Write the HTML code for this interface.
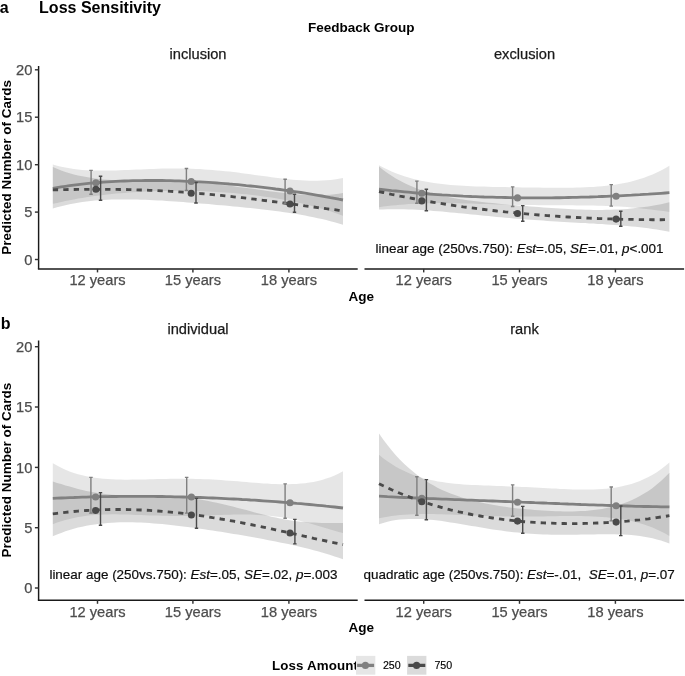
<!DOCTYPE html>
<html lang="en"><head><meta charset="utf-8"><title>Loss Sensitivity</title>
<style>
html,body{margin:0;padding:0;background:#fff;}
body{width:685px;height:676px;overflow:hidden;}
svg{display:block;}
text{font-family:"Liberation Sans",sans-serif;}
.ttl{font-size:16px;font-weight:bold;fill:#000;}
.lab{font-size:13.5px;font-weight:bold;fill:#000;}
.strip{font-size:14.67px;fill:#1a1a1a;stroke:#1a1a1a;stroke-width:0.25px;}
.at{font-size:14.67px;fill:#4d4d4d;stroke:#4d4d4d;stroke-width:0.25px;}
.ann{white-space:pre;font-size:13.45px;fill:#0d0d0d;stroke:#0d0d0d;stroke-width:0.2px;}
.it{font-style:italic;}
.leg{font-size:10.67px;fill:#000;stroke:#000;stroke-width:0.15px;}
</style></head><body>
<svg width="685" height="676" viewBox="0 0 685 676">
<rect width="685" height="676" fill="#fff"/>
<g>
<path d="M52.8 164.5 L57.0 165.7 L61.2 166.7 L65.4 167.6 L69.6 168.3 L73.8 168.9 L78.0 169.5 L82.2 169.9 L86.4 170.2 L90.7 170.4 L94.9 170.5 L99.1 170.6 L103.3 170.6 L107.5 170.6 L111.7 170.5 L115.9 170.4 L120.1 170.2 L124.3 170.1 L128.5 169.9 L132.7 169.7 L136.9 169.5 L141.1 169.4 L145.3 169.2 L149.5 169.0 L153.7 168.9 L157.9 168.7 L162.2 168.6 L166.4 168.5 L170.6 168.5 L174.8 168.5 L179.0 168.5 L183.2 168.5 L187.4 168.6 L191.6 168.8 L195.8 168.9 L200.0 169.1 L204.2 169.4 L208.4 169.7 L212.6 170.0 L216.8 170.4 L221.0 170.7 L225.2 171.2 L229.4 171.6 L233.6 172.1 L237.9 172.6 L242.1 173.2 L246.3 173.7 L250.5 174.3 L254.7 174.9 L258.9 175.5 L263.1 176.1 L267.3 176.6 L271.5 177.2 L275.7 177.8 L279.9 178.3 L284.1 178.8 L288.3 179.3 L292.5 179.7 L296.7 180.0 L300.9 180.3 L305.1 180.6 L309.4 180.7 L313.6 180.8 L317.8 180.7 L322.0 180.6 L326.2 180.3 L330.4 179.9 L334.6 179.4 L338.8 178.7 L343.0 177.9 L343.0 215.7 L338.8 214.2 L334.6 212.7 L330.4 211.3 L326.2 210.0 L322.0 208.7 L317.8 207.5 L313.6 206.4 L309.4 205.3 L305.1 204.3 L300.9 203.3 L296.7 202.3 L292.5 201.4 L288.3 200.6 L284.1 199.8 L279.9 199.0 L275.7 198.3 L271.5 197.6 L267.3 197.0 L263.1 196.4 L258.9 195.8 L254.7 195.3 L250.5 194.8 L246.3 194.3 L242.1 193.9 L237.9 193.5 L233.6 193.1 L229.4 192.7 L225.2 192.4 L221.0 192.2 L216.8 191.9 L212.6 191.7 L208.4 191.5 L204.2 191.3 L200.0 191.1 L195.8 191.0 L191.6 190.9 L187.4 190.9 L183.2 190.8 L179.0 190.8 L174.8 190.8 L170.6 190.8 L166.4 190.9 L162.2 190.9 L157.9 191.1 L153.7 191.2 L149.5 191.3 L145.3 191.5 L141.1 191.7 L136.9 192.0 L132.7 192.2 L128.5 192.5 L124.3 192.9 L120.1 193.2 L115.9 193.6 L111.7 194.0 L107.5 194.5 L103.3 195.0 L99.1 195.5 L94.9 196.0 L90.7 196.6 L86.4 197.3 L82.2 197.9 L78.0 198.6 L73.8 199.4 L69.6 200.2 L65.4 201.0 L61.2 201.9 L57.0 202.9 L52.8 203.8Z" fill="#808080" fill-opacity="0.2"/>
<path d="M52.8 166.9 L57.0 168.7 L61.2 170.4 L65.4 171.9 L69.6 173.2 L73.8 174.4 L78.0 175.4 L82.2 176.3 L86.4 177.1 L90.7 177.8 L94.9 178.4 L99.1 179.0 L103.3 179.4 L107.5 179.8 L111.7 180.1 L115.9 180.3 L120.1 180.5 L124.3 180.7 L128.5 180.8 L132.7 180.9 L136.9 181.0 L141.1 181.1 L145.3 181.1 L149.5 181.2 L153.7 181.3 L157.9 181.3 L162.2 181.4 L166.4 181.5 L170.6 181.6 L174.8 181.7 L179.0 181.9 L183.2 182.1 L187.4 182.3 L191.6 182.5 L195.8 182.7 L200.0 183.0 L204.2 183.3 L208.4 183.7 L212.6 184.1 L216.8 184.5 L221.0 184.9 L225.2 185.3 L229.4 185.8 L233.6 186.3 L237.9 186.9 L242.1 187.4 L246.3 188.0 L250.5 188.5 L254.7 189.1 L258.9 189.7 L263.1 190.3 L267.3 190.9 L271.5 191.5 L275.7 192.0 L279.9 192.5 L284.1 193.1 L288.3 193.5 L292.5 194.0 L296.7 194.3 L300.9 194.7 L305.1 194.9 L309.4 195.1 L313.6 195.2 L317.8 195.3 L322.0 195.2 L326.2 195.0 L330.4 194.7 L334.6 194.3 L338.8 193.7 L343.0 193.0 L343.0 224.8 L338.8 223.6 L334.6 222.3 L330.4 221.2 L326.2 220.1 L322.0 219.1 L317.8 218.2 L313.6 217.3 L309.4 216.4 L305.1 215.6 L300.9 214.8 L296.7 214.1 L292.5 213.4 L288.3 212.8 L284.1 212.2 L279.9 211.6 L275.7 211.0 L271.5 210.5 L267.3 210.0 L263.1 209.5 L258.9 209.0 L254.7 208.5 L250.5 208.1 L246.3 207.7 L242.1 207.2 L237.9 206.8 L233.6 206.4 L229.4 206.0 L225.2 205.6 L221.0 205.2 L216.8 204.9 L212.6 204.5 L208.4 204.1 L204.2 203.8 L200.0 203.4 L195.8 203.1 L191.6 202.7 L187.4 202.4 L183.2 202.1 L179.0 201.8 L174.8 201.5 L170.6 201.2 L166.4 200.9 L162.2 200.6 L157.9 200.4 L153.7 200.2 L149.5 200.0 L145.3 199.8 L141.1 199.7 L136.9 199.5 L132.7 199.4 L128.5 199.4 L124.3 199.4 L120.1 199.4 L115.9 199.5 L111.7 199.6 L107.5 199.8 L103.3 200.0 L99.1 200.3 L94.9 200.6 L90.7 201.0 L86.4 201.5 L82.2 202.0 L78.0 202.7 L73.8 203.4 L69.6 204.2 L65.4 205.2 L61.2 206.2 L57.0 207.3 L52.8 208.5Z" fill="#4a4a4a" fill-opacity="0.2"/>
<polyline points="52.8,188.3 57.0,187.6 61.2,186.9 65.4,186.3 69.6,185.7 73.8,185.1 78.0,184.6 82.2,184.1 86.4,183.7 90.7,183.2 94.9,182.9 99.1,182.5 103.3,182.2 107.5,181.9 111.7,181.6 115.9,181.4 120.1,181.2 124.3,181.0 128.5,180.9 132.7,180.7 136.9,180.6 141.1,180.6 145.3,180.5 149.5,180.5 153.7,180.5 157.9,180.5 162.2,180.5 166.4,180.6 170.6,180.7 174.8,180.8 179.0,180.9 183.2,181.1 187.4,181.3 191.6,181.4 195.8,181.7 200.0,181.9 204.2,182.1 208.4,182.4 212.6,182.7 216.8,183.0 221.0,183.3 225.2,183.6 229.4,184.0 233.6,184.3 237.9,184.7 242.1,185.1 246.3,185.6 250.5,186.0 254.7,186.4 258.9,186.9 263.1,187.4 267.3,187.9 271.5,188.4 275.7,189.0 279.9,189.5 284.1,190.1 288.3,190.7 292.5,191.3 296.7,191.9 300.9,192.5 305.1,193.2 309.4,193.9 313.6,194.6 317.8,195.3 322.0,196.0 326.2,196.8 330.4,197.6 334.6,198.3 338.8,199.2 343.0,200.0" fill="none" stroke="#808080" stroke-width="2.85"/>
<polyline points="52.8,189.8 57.0,189.7 61.2,189.7 65.4,189.6 69.6,189.5 73.8,189.5 78.0,189.4 82.2,189.4 86.4,189.3 90.7,189.3 94.9,189.3 99.1,189.3 103.3,189.3 107.5,189.3 111.7,189.4 115.9,189.4 120.1,189.5 124.3,189.5 128.5,189.6 132.7,189.7 136.9,189.9 141.1,190.0 145.3,190.1 149.5,190.3 153.7,190.5 157.9,190.7 162.2,190.9 166.4,191.1 170.6,191.3 174.8,191.6 179.0,191.9 183.2,192.2 187.4,192.5 191.6,192.8 195.8,193.1 200.0,193.5 204.2,193.8 208.4,194.2 212.6,194.6 216.8,195.0 221.0,195.4 225.2,195.9 229.4,196.3 233.6,196.8 237.9,197.3 242.1,197.7 246.3,198.2 250.5,198.7 254.7,199.2 258.9,199.8 263.1,200.3 267.3,200.8 271.5,201.4 275.7,201.9 279.9,202.5 284.1,203.0 288.3,203.6 292.5,204.2 296.7,204.7 300.9,205.3 305.1,205.9 309.4,206.4 313.6,207.0 317.8,207.6 322.0,208.1 326.2,208.7 330.4,209.2 334.6,209.7 338.8,210.3 343.0,210.8" fill="none" stroke="#4a4a4a" stroke-width="2.85" stroke-dasharray="5.3 5.17"/>
<path d="M91.1 170.4V194.2M89.3 170.4H92.8M89.3 194.2H92.8" stroke="#808080" stroke-width="1.42" fill="none"/>
<path d="M100.6 176.2V200.3M98.8 176.2H102.3M98.8 200.3H102.3" stroke="#4a4a4a" stroke-width="1.42" fill="none"/>
<path d="M186.4 168.5V190.5M184.7 168.5H188.2M184.7 190.5H188.2" stroke="#808080" stroke-width="1.42" fill="none"/>
<path d="M196.0 182.5V203.0M194.2 182.5H197.8M194.2 203.0H197.8" stroke="#4a4a4a" stroke-width="1.42" fill="none"/>
<path d="M285.1 179.3V203.2M283.4 179.3H286.9M283.4 203.2H286.9" stroke="#808080" stroke-width="1.42" fill="none"/>
<path d="M294.5 194.3V212.3M292.8 194.3H296.2M292.8 212.3H296.2" stroke="#4a4a4a" stroke-width="1.42" fill="none"/>
<circle cx="95.9" cy="182.7" r="3.55" fill="#808080"/>
<circle cx="95.9" cy="189.3" r="3.55" fill="#4a4a4a"/>
<circle cx="191.2" cy="181.5" r="3.55" fill="#808080"/>
<circle cx="191.2" cy="193.3" r="3.55" fill="#4a4a4a"/>
<circle cx="290.0" cy="191.0" r="3.55" fill="#808080"/>
<circle cx="290.0" cy="204.0" r="3.55" fill="#4a4a4a"/>
<path d="M379.0 165.2 L383.2 167.5 L387.4 169.6 L391.6 171.5 L395.8 173.3 L400.0 174.8 L404.3 176.3 L408.5 177.6 L412.7 178.7 L416.9 179.8 L421.1 180.7 L425.3 181.6 L429.5 182.3 L433.7 183.0 L437.9 183.5 L442.1 184.1 L446.3 184.5 L450.5 184.9 L454.8 185.2 L459.0 185.5 L463.2 185.8 L467.4 186.0 L471.6 186.2 L475.8 186.4 L480.0 186.5 L484.2 186.6 L488.4 186.8 L492.6 186.9 L496.8 186.9 L501.1 187.0 L505.3 187.1 L509.5 187.2 L513.7 187.2 L517.9 187.3 L522.1 187.4 L526.3 187.4 L530.5 187.5 L534.7 187.6 L538.9 187.6 L543.1 187.7 L547.3 187.7 L551.6 187.7 L555.8 187.8 L560.0 187.8 L564.2 187.8 L568.4 187.7 L572.6 187.7 L576.8 187.6 L581.0 187.5 L585.2 187.3 L589.4 187.1 L593.6 186.9 L597.9 186.6 L602.1 186.2 L606.3 185.8 L610.5 185.3 L614.7 184.7 L618.9 184.1 L623.1 183.3 L627.3 182.4 L631.5 181.4 L635.7 180.3 L639.9 179.1 L644.1 177.7 L648.4 176.1 L652.6 174.4 L656.8 172.5 L661.0 170.5 L665.2 168.2 L669.4 165.7 L669.4 211.9 L665.2 211.3 L661.0 210.8 L656.8 210.2 L652.6 209.7 L648.4 209.2 L644.1 208.7 L639.9 208.3 L635.7 207.8 L631.5 207.5 L627.3 207.1 L623.1 206.8 L618.9 206.6 L614.7 206.4 L610.5 206.1 L606.3 206.0 L602.1 205.8 L597.9 205.7 L593.6 205.6 L589.4 205.5 L585.2 205.5 L581.0 205.4 L576.8 205.4 L572.6 205.3 L568.4 205.3 L564.2 205.3 L560.0 205.3 L555.8 205.3 L551.6 205.3 L547.3 205.2 L543.1 205.2 L538.9 205.2 L534.7 205.1 L530.5 205.1 L526.3 205.0 L522.1 205.0 L517.9 204.9 L513.7 204.8 L509.5 204.7 L505.3 204.6 L501.1 204.5 L496.8 204.4 L492.6 204.2 L488.4 204.1 L484.2 204.0 L480.0 203.9 L475.8 203.7 L471.6 203.6 L467.4 203.5 L463.2 203.4 L459.0 203.3 L454.8 203.2 L450.5 203.2 L446.3 203.1 L442.1 203.1 L437.9 203.1 L433.7 203.2 L429.5 203.2 L425.3 203.3 L421.1 203.5 L416.9 203.7 L412.7 203.9 L408.5 204.1 L404.3 204.5 L400.0 204.8 L395.8 205.2 L391.6 205.6 L387.4 206.1 L383.2 206.6 L379.0 207.2Z" fill="#808080" fill-opacity="0.2"/>
<path d="M379.0 166.6 L383.2 169.9 L387.4 173.0 L391.6 175.8 L395.8 178.4 L400.0 180.8 L404.3 183.0 L408.5 185.0 L412.7 186.8 L416.9 188.4 L421.1 190.0 L425.3 191.3 L429.5 192.6 L433.7 193.8 L437.9 194.8 L442.1 195.8 L446.3 196.7 L450.5 197.5 L454.8 198.3 L459.0 199.0 L463.2 199.6 L467.4 200.2 L471.6 200.8 L475.8 201.3 L480.0 201.8 L484.2 202.3 L488.4 202.7 L492.6 203.1 L496.8 203.5 L501.1 203.9 L505.3 204.3 L509.5 204.7 L513.7 205.1 L517.9 205.4 L522.1 205.8 L526.3 206.1 L530.5 206.5 L534.7 206.8 L538.9 207.1 L543.1 207.4 L547.3 207.7 L551.6 208.0 L555.8 208.3 L560.0 208.6 L564.2 208.8 L568.4 209.0 L572.6 209.3 L576.8 209.4 L581.0 209.6 L585.2 209.7 L589.4 209.8 L593.6 209.9 L597.9 209.9 L602.1 209.9 L606.3 209.8 L610.5 209.8 L614.7 209.6 L618.9 209.4 L623.1 209.2 L627.3 208.9 L631.5 208.5 L635.7 208.1 L639.9 207.6 L644.1 207.1 L648.4 206.4 L652.6 205.8 L656.8 205.0 L661.0 204.2 L665.2 203.2 L669.4 202.3 L669.4 231.8 L665.2 231.0 L661.0 230.3 L656.8 229.6 L652.6 228.9 L648.4 228.3 L644.1 227.8 L639.9 227.3 L635.7 226.8 L631.5 226.4 L627.3 226.0 L623.1 225.7 L618.9 225.3 L614.7 225.0 L610.5 224.7 L606.3 224.4 L602.1 224.1 L597.9 223.9 L593.6 223.6 L589.4 223.4 L585.2 223.1 L581.0 222.9 L576.8 222.7 L572.6 222.4 L568.4 222.2 L564.2 222.0 L560.0 221.7 L555.8 221.4 L551.6 221.2 L547.3 220.9 L543.1 220.6 L538.9 220.3 L534.7 220.0 L530.5 219.7 L526.3 219.4 L522.1 219.1 L517.9 218.7 L513.7 218.4 L509.5 218.0 L505.3 217.7 L501.1 217.3 L496.8 216.9 L492.6 216.5 L488.4 216.1 L484.2 215.7 L480.0 215.3 L475.8 214.8 L471.6 214.4 L467.4 214.0 L463.2 213.6 L459.0 213.2 L454.8 212.8 L450.5 212.4 L446.3 212.0 L442.1 211.6 L437.9 211.2 L433.7 210.9 L429.5 210.6 L425.3 210.3 L421.1 210.0 L416.9 209.8 L412.7 209.6 L408.5 209.4 L404.3 209.3 L400.0 209.2 L395.8 209.2 L391.6 209.2 L387.4 209.3 L383.2 209.4 L379.0 209.6Z" fill="#4a4a4a" fill-opacity="0.2"/>
<polyline points="379.0,189.2 383.2,189.6 387.4,190.1 391.6,190.6 395.8,191.0 400.0,191.4 404.3,191.8 408.5,192.2 412.7,192.6 416.9,193.0 421.1,193.3 425.3,193.6 429.5,194.0 433.7,194.3 437.9,194.6 442.1,194.9 446.3,195.1 450.5,195.4 454.8,195.6 459.0,195.8 463.2,196.1 467.4,196.3 471.6,196.5 475.8,196.6 480.0,196.8 484.2,197.0 488.4,197.1 492.6,197.2 496.8,197.3 501.1,197.4 505.3,197.5 509.5,197.6 513.7,197.7 517.9,197.7 522.1,197.8 526.3,197.8 530.5,197.8 534.7,197.8 538.9,197.8 543.1,197.8 547.3,197.8 551.6,197.8 555.8,197.7 560.0,197.7 564.2,197.6 568.4,197.5 572.6,197.4 576.8,197.3 581.0,197.2 585.2,197.1 589.4,197.0 593.6,196.8 597.9,196.7 602.1,196.5 606.3,196.4 610.5,196.2 614.7,196.0 618.9,195.8 623.1,195.6 627.3,195.4 631.5,195.2 635.7,194.9 639.9,194.7 644.1,194.4 648.4,194.2 652.6,193.9 656.8,193.6 661.0,193.3 665.2,193.0 669.4,192.7" fill="none" stroke="#808080" stroke-width="2.85"/>
<polyline points="379.0,191.6 383.2,192.5 387.4,193.5 391.6,194.4 395.8,195.2 400.0,196.1 404.3,196.9 408.5,197.7 412.7,198.5 416.9,199.3 421.1,200.1 425.3,200.8 429.5,201.6 433.7,202.3 437.9,203.0 442.1,203.6 446.3,204.3 450.5,204.9 454.8,205.6 459.0,206.2 463.2,206.8 467.4,207.3 471.6,207.9 475.8,208.4 480.0,209.0 484.2,209.5 488.4,210.0 492.6,210.5 496.8,211.0 501.1,211.4 505.3,211.9 509.5,212.3 513.7,212.7 517.9,213.1 522.1,213.5 526.3,213.9 530.5,214.3 534.7,214.6 538.9,215.0 543.1,215.3 547.3,215.6 551.6,215.9 555.8,216.2 560.0,216.5 564.2,216.8 568.4,217.0 572.6,217.3 576.8,217.5 581.0,217.7 585.2,217.9 589.4,218.1 593.6,218.3 597.9,218.5 602.1,218.6 606.3,218.8 610.5,218.9 614.7,219.1 618.9,219.2 623.1,219.3 627.3,219.4 631.5,219.4 635.7,219.5 639.9,219.6 644.1,219.6 648.4,219.6 652.6,219.7 656.8,219.7 661.0,219.7 665.2,219.6 669.4,219.6" fill="none" stroke="#4a4a4a" stroke-width="2.85" stroke-dasharray="5.3 5.17"/>
<path d="M416.9 181.1V203.3M415.1 181.1H418.6M415.1 203.3H418.6" stroke="#808080" stroke-width="1.42" fill="none"/>
<path d="M426.4 189.2V210.7M424.6 189.2H428.1M424.6 210.7H428.1" stroke="#4a4a4a" stroke-width="1.42" fill="none"/>
<path d="M512.6 186.9V206.5M510.9 186.9H514.4M510.9 206.5H514.4" stroke="#808080" stroke-width="1.42" fill="none"/>
<path d="M522.7 205.6V221.2M521.0 205.6H524.5M521.0 221.2H524.5" stroke="#4a4a4a" stroke-width="1.42" fill="none"/>
<path d="M611.2 184.6V206.1M609.5 184.6H613.0M609.5 206.1H613.0" stroke="#808080" stroke-width="1.42" fill="none"/>
<path d="M620.8 211.2V226.2M619.0 211.2H622.5M619.0 226.2H622.5" stroke="#4a4a4a" stroke-width="1.42" fill="none"/>
<circle cx="421.8" cy="193.2" r="3.55" fill="#808080"/>
<circle cx="421.8" cy="200.9" r="3.55" fill="#4a4a4a"/>
<circle cx="517.5" cy="197.9" r="3.55" fill="#808080"/>
<circle cx="517.5" cy="213.5" r="3.55" fill="#4a4a4a"/>
<circle cx="616.1" cy="196.3" r="3.55" fill="#808080"/>
<circle cx="616.1" cy="219.1" r="3.55" fill="#4a4a4a"/>
<path d="M52.8 463.2 L57.0 465.6 L61.2 467.8 L65.4 469.7 L69.6 471.4 L73.8 472.9 L78.0 474.2 L82.2 475.3 L86.4 476.3 L90.7 477.1 L94.9 477.7 L99.1 478.3 L103.3 478.7 L107.5 479.1 L111.7 479.3 L115.9 479.5 L120.1 479.6 L124.3 479.7 L128.5 479.7 L132.7 479.6 L136.9 479.6 L141.1 479.5 L145.3 479.4 L149.5 479.3 L153.7 479.2 L157.9 479.0 L162.2 478.9 L166.4 478.9 L170.6 478.8 L174.8 478.7 L179.0 478.7 L183.2 478.7 L187.4 478.7 L191.6 478.8 L195.8 478.9 L200.0 479.0 L204.2 479.2 L208.4 479.3 L212.6 479.6 L216.8 479.8 L221.0 480.1 L225.2 480.4 L229.4 480.7 L233.6 481.0 L237.9 481.3 L242.1 481.7 L246.3 482.1 L250.5 482.4 L254.7 482.7 L258.9 483.1 L263.1 483.4 L267.3 483.6 L271.5 483.9 L275.7 484.1 L279.9 484.2 L284.1 484.3 L288.3 484.2 L292.5 484.1 L296.7 483.9 L300.9 483.6 L305.1 483.2 L309.4 482.6 L313.6 481.9 L317.8 481.0 L322.0 479.9 L326.2 478.6 L330.4 477.2 L334.6 475.5 L338.8 473.5 L343.0 471.3 L343.0 533.1 L338.8 532.0 L334.6 530.8 L330.4 529.6 L326.2 528.3 L322.0 527.0 L317.8 525.7 L313.6 524.5 L309.4 523.3 L305.1 522.2 L300.9 521.1 L296.7 520.1 L292.5 519.2 L288.3 518.3 L284.1 517.6 L279.9 516.9 L275.7 516.4 L271.5 515.9 L267.3 515.5 L263.1 515.2 L258.9 514.9 L254.7 514.7 L250.5 514.6 L246.3 514.5 L242.1 514.5 L237.9 514.5 L233.6 514.6 L229.4 514.7 L225.2 514.8 L221.0 514.9 L216.8 515.1 L212.6 515.2 L208.4 515.4 L204.2 515.5 L200.0 515.6 L195.8 515.7 L191.6 515.8 L187.4 515.9 L183.2 515.9 L179.0 515.9 L174.8 515.9 L170.6 515.9 L166.4 515.8 L162.2 515.8 L157.9 515.6 L153.7 515.5 L149.5 515.4 L145.3 515.2 L141.1 515.1 L136.9 514.9 L132.7 514.7 L128.5 514.6 L124.3 514.5 L120.1 514.4 L115.9 514.3 L111.7 514.3 L107.5 514.4 L103.3 514.5 L99.1 514.7 L94.9 515.0 L90.7 515.3 L86.4 515.8 L82.2 516.4 L78.0 517.1 L73.8 517.9 L69.6 518.9 L65.4 520.0 L61.2 521.2 L57.0 522.6 L52.8 524.2Z" fill="#808080" fill-opacity="0.2"/>
<path d="M52.8 481.6 L57.0 482.9 L61.2 484.1 L65.4 485.4 L69.6 486.6 L73.8 487.8 L78.0 488.9 L82.2 489.9 L86.4 490.9 L90.7 491.7 L94.9 492.5 L99.1 493.2 L103.3 493.8 L107.5 494.3 L111.7 494.7 L115.9 495.0 L120.1 495.3 L124.3 495.5 L128.5 495.7 L132.7 495.8 L136.9 495.9 L141.1 496.0 L145.3 496.0 L149.5 496.1 L153.7 496.1 L157.9 496.2 L162.2 496.3 L166.4 496.5 L170.6 496.7 L174.8 496.9 L179.0 497.2 L183.2 497.6 L187.4 498.0 L191.6 498.5 L195.8 499.0 L200.0 499.6 L204.2 500.3 L208.4 501.1 L212.6 501.9 L216.8 502.8 L221.0 503.7 L225.2 504.7 L229.4 505.7 L233.6 506.8 L237.9 507.9 L242.1 509.0 L246.3 510.1 L250.5 511.3 L254.7 512.4 L258.9 513.5 L263.1 514.6 L267.3 515.6 L271.5 516.7 L275.7 517.6 L279.9 518.5 L284.1 519.3 L288.3 520.0 L292.5 520.7 L296.7 521.3 L300.9 521.7 L305.1 522.1 L309.4 522.4 L313.6 522.6 L317.8 522.8 L322.0 522.9 L326.2 522.9 L330.4 522.9 L334.6 522.9 L338.8 522.9 L343.0 522.9 L343.0 559.2 L338.8 557.8 L334.6 556.4 L330.4 555.0 L326.2 553.7 L322.0 552.5 L317.8 551.3 L313.6 550.2 L309.4 549.1 L305.1 548.0 L300.9 547.0 L296.7 546.0 L292.5 545.1 L288.3 544.1 L284.1 543.2 L279.9 542.4 L275.7 541.5 L271.5 540.7 L267.3 539.9 L263.1 539.1 L258.9 538.3 L254.7 537.5 L250.5 536.8 L246.3 536.0 L242.1 535.3 L237.9 534.6 L233.6 533.9 L229.4 533.2 L225.2 532.5 L221.0 531.8 L216.8 531.2 L212.6 530.5 L208.4 529.9 L204.2 529.3 L200.0 528.7 L195.8 528.1 L191.6 527.5 L187.4 526.9 L183.2 526.4 L179.0 525.9 L174.8 525.4 L170.6 524.9 L166.4 524.5 L162.2 524.1 L157.9 523.7 L153.7 523.4 L149.5 523.1 L145.3 522.8 L141.1 522.6 L136.9 522.4 L132.7 522.3 L128.5 522.3 L124.3 522.3 L120.1 522.3 L115.9 522.5 L111.7 522.7 L107.5 523.0 L103.3 523.4 L99.1 523.8 L94.9 524.4 L90.7 525.0 L86.4 525.8 L82.2 526.7 L78.0 527.6 L73.8 528.8 L69.6 530.0 L65.4 531.3 L61.2 532.9 L57.0 534.5 L52.8 536.3Z" fill="#4a4a4a" fill-opacity="0.2"/>
<polyline points="52.8,498.4 57.0,498.2 61.2,498.0 65.4,497.8 69.6,497.6 73.8,497.5 78.0,497.3 82.2,497.2 86.4,497.1 90.7,496.9 94.9,496.8 99.1,496.7 103.3,496.6 107.5,496.6 111.7,496.5 115.9,496.5 120.1,496.4 124.3,496.4 128.5,496.4 132.7,496.3 136.9,496.3 141.1,496.4 145.3,496.4 149.5,496.4 153.7,496.4 157.9,496.5 162.2,496.5 166.4,496.6 170.6,496.7 174.8,496.8 179.0,496.9 183.2,497.0 187.4,497.1 191.6,497.2 195.8,497.4 200.0,497.5 204.2,497.6 208.4,497.8 212.6,498.0 216.8,498.2 221.0,498.4 225.2,498.6 229.4,498.8 233.6,499.0 237.9,499.2 242.1,499.5 246.3,499.7 250.5,500.0 254.7,500.2 258.9,500.5 263.1,500.8 267.3,501.1 271.5,501.4 275.7,501.7 279.9,502.0 284.1,502.3 288.3,502.7 292.5,503.0 296.7,503.4 300.9,503.7 305.1,504.1 309.4,504.5 313.6,504.9 317.8,505.3 322.0,505.7 326.2,506.2 330.4,506.6 334.6,507.0 338.8,507.5 343.0,508.0" fill="none" stroke="#808080" stroke-width="2.85"/>
<polyline points="52.8,513.8 57.0,513.3 61.2,512.8 65.4,512.3 69.6,511.9 73.8,511.5 78.0,511.1 82.2,510.8 86.4,510.5 90.7,510.3 94.9,510.1 99.1,509.9 103.3,509.7 107.5,509.6 111.7,509.5 115.9,509.5 120.1,509.5 124.3,509.5 128.5,509.6 132.7,509.7 136.9,509.8 141.1,510.0 145.3,510.2 149.5,510.4 153.7,510.7 157.9,511.0 162.2,511.3 166.4,511.7 170.6,512.1 174.8,512.5 179.0,512.9 183.2,513.4 187.4,513.9 191.6,514.5 195.8,515.0 200.0,515.6 204.2,516.2 208.4,516.9 212.6,517.6 216.8,518.2 221.0,519.0 225.2,519.7 229.4,520.5 233.6,521.2 237.9,522.0 242.1,522.8 246.3,523.7 250.5,524.5 254.7,525.4 258.9,526.2 263.1,527.1 267.3,528.0 271.5,528.9 275.7,529.9 279.9,530.8 284.1,531.7 288.3,532.6 292.5,533.6 296.7,534.5 300.9,535.5 305.1,536.4 309.4,537.3 313.6,538.3 317.8,539.2 322.0,540.1 326.2,541.0 330.4,542.0 334.6,542.8 338.8,543.7 343.0,544.6" fill="none" stroke="#4a4a4a" stroke-width="2.85" stroke-dasharray="5.3 5.17"/>
<path d="M90.9 477.4V513.1M89.2 477.4H92.7M89.2 513.1H92.7" stroke="#808080" stroke-width="1.42" fill="none"/>
<path d="M100.5 492.6V525.3M98.8 492.6H102.2M98.8 525.3H102.2" stroke="#4a4a4a" stroke-width="1.42" fill="none"/>
<path d="M186.7 477.4V513.1M184.9 477.4H188.4M184.9 513.1H188.4" stroke="#808080" stroke-width="1.42" fill="none"/>
<path d="M196.5 498.4V528.3M194.8 498.4H198.2M194.8 528.3H198.2" stroke="#4a4a4a" stroke-width="1.42" fill="none"/>
<path d="M285.1 483.9V518.3M283.4 483.9H286.9M283.4 518.3H286.9" stroke="#808080" stroke-width="1.42" fill="none"/>
<path d="M294.9 519.4V543.9M293.1 519.4H296.6M293.1 543.9H296.6" stroke="#4a4a4a" stroke-width="1.42" fill="none"/>
<circle cx="95.6" cy="497.0" r="3.55" fill="#808080"/>
<circle cx="95.6" cy="510.5" r="3.55" fill="#4a4a4a"/>
<circle cx="191.4" cy="497.0" r="3.55" fill="#808080"/>
<circle cx="191.4" cy="515.0" r="3.55" fill="#4a4a4a"/>
<circle cx="290.0" cy="502.8" r="3.55" fill="#808080"/>
<circle cx="290.0" cy="533.0" r="3.55" fill="#4a4a4a"/>
<path d="M379.0 454.7 L383.2 458.2 L387.4 461.3 L391.6 464.1 L395.8 466.7 L400.0 469.0 L404.3 471.1 L408.5 473.0 L412.7 474.7 L416.9 476.2 L421.1 477.5 L425.3 478.7 L429.5 479.7 L433.7 480.6 L437.9 481.4 L442.1 482.1 L446.3 482.7 L450.5 483.2 L454.8 483.7 L459.0 484.0 L463.2 484.4 L467.4 484.7 L471.6 484.9 L475.8 485.1 L480.0 485.3 L484.2 485.5 L488.4 485.6 L492.6 485.8 L496.8 485.9 L501.1 486.1 L505.3 486.2 L509.5 486.4 L513.7 486.5 L517.9 486.7 L522.1 486.9 L526.3 487.1 L530.5 487.3 L534.7 487.5 L538.9 487.7 L543.1 488.0 L547.3 488.2 L551.6 488.4 L555.8 488.6 L560.0 488.9 L564.2 489.0 L568.4 489.2 L572.6 489.4 L576.8 489.5 L581.0 489.6 L585.2 489.6 L589.4 489.6 L593.6 489.5 L597.9 489.3 L602.1 489.1 L606.3 488.7 L610.5 488.3 L614.7 487.7 L618.9 487.0 L623.1 486.1 L627.3 485.1 L631.5 483.9 L635.7 482.5 L639.9 480.9 L644.1 479.1 L648.4 477.0 L652.6 474.7 L656.8 472.2 L661.0 469.3 L665.2 466.1 L669.4 462.6 L669.4 536.0 L665.2 533.6 L661.0 531.4 L656.8 529.4 L652.6 527.6 L648.4 526.0 L644.1 524.6 L639.9 523.3 L635.7 522.1 L631.5 521.1 L627.3 520.2 L623.1 519.4 L618.9 518.7 L614.7 518.2 L610.5 517.7 L606.3 517.3 L602.1 516.9 L597.9 516.7 L593.6 516.5 L589.4 516.3 L585.2 516.2 L581.0 516.1 L576.8 516.1 L572.6 516.1 L568.4 516.1 L564.2 516.1 L560.0 516.1 L555.8 516.2 L551.6 516.3 L547.3 516.3 L543.1 516.4 L538.9 516.4 L534.7 516.5 L530.5 516.5 L526.3 516.5 L522.1 516.5 L517.9 516.5 L513.7 516.5 L509.5 516.5 L505.3 516.4 L501.1 516.3 L496.8 516.3 L492.6 516.2 L488.4 516.0 L484.2 515.9 L480.0 515.8 L475.8 515.6 L471.6 515.5 L467.4 515.3 L463.2 515.1 L459.0 514.9 L454.8 514.8 L450.5 514.6 L446.3 514.5 L442.1 514.3 L437.9 514.2 L433.7 514.1 L429.5 514.1 L425.3 514.1 L421.1 514.1 L416.9 514.2 L412.7 514.3 L408.5 514.5 L404.3 514.8 L400.0 515.1 L395.8 515.5 L391.6 516.0 L387.4 516.7 L383.2 517.4 L379.0 518.3Z" fill="#808080" fill-opacity="0.2"/>
<path d="M379.0 433.5 L383.2 439.5 L387.4 445.1 L391.6 450.3 L395.8 455.2 L400.0 459.7 L404.3 463.9 L408.5 467.7 L412.7 471.3 L416.9 474.7 L421.1 477.7 L425.3 480.6 L429.5 483.2 L433.7 485.6 L437.9 487.9 L442.1 489.9 L446.3 491.8 L450.5 493.5 L454.8 495.1 L459.0 496.6 L463.2 497.9 L467.4 499.2 L471.6 500.3 L475.8 501.4 L480.0 502.3 L484.2 503.2 L488.4 504.1 L492.6 504.8 L496.8 505.5 L501.1 506.2 L505.3 506.8 L509.5 507.4 L513.7 507.9 L517.9 508.4 L522.1 508.8 L526.3 509.2 L530.5 509.6 L534.7 510.0 L538.9 510.3 L543.1 510.6 L547.3 510.8 L551.6 511.0 L555.8 511.2 L560.0 511.3 L564.2 511.4 L568.4 511.4 L572.6 511.4 L576.8 511.3 L581.0 511.1 L585.2 510.9 L589.4 510.5 L593.6 510.1 L597.9 509.6 L602.1 508.9 L606.3 508.1 L610.5 507.2 L614.7 506.2 L618.9 505.0 L623.1 503.6 L627.3 502.0 L631.5 500.2 L635.7 498.3 L639.9 496.0 L644.1 493.6 L648.4 490.9 L652.6 487.9 L656.8 484.6 L661.0 481.0 L665.2 477.1 L669.4 472.8 L669.4 543.5 L665.2 542.0 L661.0 540.6 L656.8 539.4 L652.6 538.3 L648.4 537.4 L644.1 536.7 L639.9 536.1 L635.7 535.6 L631.5 535.1 L627.3 534.8 L623.1 534.6 L618.9 534.4 L614.7 534.3 L610.5 534.3 L606.3 534.3 L602.1 534.3 L597.9 534.3 L593.6 534.4 L589.4 534.5 L585.2 534.5 L581.0 534.6 L576.8 534.7 L572.6 534.8 L568.4 534.8 L564.2 534.8 L560.0 534.8 L555.8 534.7 L551.6 534.7 L547.3 534.6 L543.1 534.4 L538.9 534.2 L534.7 534.0 L530.5 533.7 L526.3 533.4 L522.1 533.0 L517.9 532.6 L513.7 532.2 L509.5 531.7 L505.3 531.2 L501.1 530.6 L496.8 530.0 L492.6 529.4 L488.4 528.7 L484.2 528.0 L480.0 527.3 L475.8 526.6 L471.6 525.9 L467.4 525.2 L463.2 524.5 L459.0 523.7 L454.8 523.0 L450.5 522.4 L446.3 521.7 L442.1 521.1 L437.9 520.6 L433.7 520.1 L429.5 519.7 L425.3 519.3 L421.1 519.1 L416.9 518.9 L412.7 518.9 L408.5 519.0 L404.3 519.2 L400.0 519.6 L395.8 520.1 L391.6 520.8 L387.4 521.7 L383.2 522.9 L379.0 524.2Z" fill="#4a4a4a" fill-opacity="0.2"/>
<polyline points="379.0,496.2 383.2,496.4 387.4,496.7 391.6,496.9 395.8,497.1 400.0,497.3 404.3,497.5 408.5,497.7 412.7,497.8 416.9,498.0 421.1,498.2 425.3,498.4 429.5,498.6 433.7,498.7 437.9,498.9 442.1,499.1 446.3,499.2 450.5,499.4 454.8,499.6 459.0,499.7 463.2,499.9 467.4,500.1 471.6,500.2 475.8,500.4 480.0,500.6 484.2,500.7 488.4,500.9 492.6,501.0 496.8,501.2 501.1,501.4 505.3,501.5 509.5,501.7 513.7,501.9 517.9,502.0 522.1,502.2 526.3,502.3 530.5,502.5 534.7,502.7 538.9,502.8 543.1,503.0 547.3,503.2 551.6,503.3 555.8,503.5 560.0,503.7 564.2,503.8 568.4,504.0 572.6,504.1 576.8,504.3 581.0,504.5 585.2,504.6 589.4,504.8 593.6,504.9 597.9,505.1 602.1,505.2 606.3,505.4 610.5,505.5 614.7,505.6 618.9,505.8 623.1,505.9 627.3,506.0 631.5,506.1 635.7,506.3 639.9,506.4 644.1,506.5 648.4,506.5 652.6,506.6 656.8,506.7 661.0,506.8 665.2,506.8 669.4,506.9" fill="none" stroke="#808080" stroke-width="2.85"/>
<polyline points="379.0,483.7 383.2,485.8 387.4,487.7 391.6,489.7 395.8,491.5 400.0,493.3 404.3,495.0 408.5,496.6 412.7,498.2 416.9,499.7 421.1,501.1 425.3,502.5 429.5,503.9 433.7,505.2 437.9,506.4 442.1,507.6 446.3,508.7 450.5,509.8 454.8,510.8 459.0,511.8 463.2,512.7 467.4,513.6 471.6,514.5 475.8,515.3 480.0,516.0 484.2,516.7 488.4,517.4 492.6,518.0 496.8,518.6 501.1,519.2 505.3,519.7 509.5,520.2 513.7,520.7 517.9,521.1 522.1,521.5 526.3,521.8 530.5,522.1 534.7,522.4 538.9,522.7 543.1,522.9 547.3,523.1 551.6,523.2 555.8,523.4 560.0,523.5 564.2,523.5 568.4,523.6 572.6,523.6 576.8,523.6 581.0,523.5 585.2,523.4 589.4,523.3 593.6,523.2 597.9,523.0 602.1,522.8 606.3,522.6 610.5,522.4 614.7,522.1 618.9,521.8 623.1,521.4 627.3,521.1 631.5,520.7 635.7,520.2 639.9,519.8 644.1,519.3 648.4,518.8 652.6,518.2 656.8,517.6 661.0,517.0 665.2,516.4 669.4,515.7" fill="none" stroke="#4a4a4a" stroke-width="2.85" stroke-dasharray="5.3 5.17"/>
<path d="M416.9 476.8V515.3M415.1 476.8H418.6M415.1 515.3H418.6" stroke="#808080" stroke-width="1.42" fill="none"/>
<path d="M426.4 479.6V519.7M424.6 479.6H428.1M424.6 519.7H428.1" stroke="#4a4a4a" stroke-width="1.42" fill="none"/>
<path d="M512.6 484.9V516.2M510.9 484.9H514.4M510.9 516.2H514.4" stroke="#808080" stroke-width="1.42" fill="none"/>
<path d="M522.7 506.4V533.3M521.0 506.4H524.5M521.0 533.3H524.5" stroke="#4a4a4a" stroke-width="1.42" fill="none"/>
<path d="M611.2 487.0V520.9M609.5 487.0H613.0M609.5 520.9H613.0" stroke="#808080" stroke-width="1.42" fill="none"/>
<path d="M620.8 506.0V535.6M619.0 506.0H622.5M619.0 535.6H622.5" stroke="#4a4a4a" stroke-width="1.42" fill="none"/>
<circle cx="421.8" cy="498.3" r="3.55" fill="#808080"/>
<circle cx="421.8" cy="501.8" r="3.55" fill="#4a4a4a"/>
<circle cx="517.5" cy="502.2" r="3.55" fill="#808080"/>
<circle cx="517.5" cy="521.1" r="3.55" fill="#4a4a4a"/>
<circle cx="616.1" cy="505.7" r="3.55" fill="#808080"/>
<circle cx="616.1" cy="522.1" r="3.55" fill="#4a4a4a"/>
</g>
<path d="M38.6 66V268.9" stroke="#1a1a1a" stroke-width="1.45" fill="none"/>
<path d="M34.9 259.5H38.6" stroke="#333" stroke-width="1.45"/>
<text x="32.3" y="264.7" text-anchor="end" class="at">0</text>
<path d="M34.9 212.1H38.6" stroke="#333" stroke-width="1.45"/>
<text x="32.3" y="217.3" text-anchor="end" class="at">5</text>
<path d="M34.9 164.7H38.6" stroke="#333" stroke-width="1.45"/>
<text x="32.3" y="169.8" text-anchor="end" class="at">10</text>
<path d="M34.9 117.2H38.6" stroke="#333" stroke-width="1.45"/>
<text x="32.3" y="122.4" text-anchor="end" class="at">15</text>
<path d="M34.9 69.8H38.6" stroke="#333" stroke-width="1.45"/>
<text x="32.3" y="75.0" text-anchor="end" class="at">20</text>
<path d="M37.88 268.9H357.7" stroke="#1a1a1a" stroke-width="1.45" fill="none"/>
<path d="M97.5 268.9V272.4" stroke="#333" stroke-width="1.45"/>
<text x="97.5" y="285.1" text-anchor="middle" class="at">12 years</text>
<path d="M192.9 268.9V272.4" stroke="#333" stroke-width="1.45"/>
<text x="192.9" y="285.1" text-anchor="middle" class="at">15 years</text>
<path d="M288.9 268.9V272.4" stroke="#333" stroke-width="1.45"/>
<text x="288.9" y="285.1" text-anchor="middle" class="at">18 years</text>
<path d="M364.5 268.9H684.1" stroke="#1a1a1a" stroke-width="1.45" fill="none"/>
<path d="M423.7 268.9V272.4" stroke="#333" stroke-width="1.45"/>
<text x="423.7" y="285.1" text-anchor="middle" class="at">12 years</text>
<path d="M519.5 268.9V272.4" stroke="#333" stroke-width="1.45"/>
<text x="519.5" y="285.1" text-anchor="middle" class="at">15 years</text>
<path d="M615.4 268.9V272.4" stroke="#333" stroke-width="1.45"/>
<text x="615.4" y="285.1" text-anchor="middle" class="at">18 years</text>
<path d="M38.6 340.5V600.3" stroke="#1a1a1a" stroke-width="1.45" fill="none"/>
<path d="M34.9 588.0H38.6" stroke="#333" stroke-width="1.45"/>
<text x="32.3" y="593.2" text-anchor="end" class="at">0</text>
<path d="M34.9 527.7H38.6" stroke="#333" stroke-width="1.45"/>
<text x="32.3" y="532.9" text-anchor="end" class="at">5</text>
<path d="M34.9 467.4H38.6" stroke="#333" stroke-width="1.45"/>
<text x="32.3" y="472.6" text-anchor="end" class="at">10</text>
<path d="M34.9 407.0H38.6" stroke="#333" stroke-width="1.45"/>
<text x="32.3" y="412.2" text-anchor="end" class="at">15</text>
<path d="M34.9 346.7H38.6" stroke="#333" stroke-width="1.45"/>
<text x="32.3" y="351.9" text-anchor="end" class="at">20</text>
<path d="M37.88 600.3H357.7" stroke="#1a1a1a" stroke-width="1.45" fill="none"/>
<path d="M97.5 600.3V603.8" stroke="#333" stroke-width="1.45"/>
<text x="97.5" y="616.5" text-anchor="middle" class="at">12 years</text>
<path d="M192.9 600.3V603.8" stroke="#333" stroke-width="1.45"/>
<text x="192.9" y="616.5" text-anchor="middle" class="at">15 years</text>
<path d="M288.9 600.3V603.8" stroke="#333" stroke-width="1.45"/>
<text x="288.9" y="616.5" text-anchor="middle" class="at">18 years</text>
<path d="M364.5 600.3H684.1" stroke="#1a1a1a" stroke-width="1.45" fill="none"/>
<path d="M423.7 600.3V603.8" stroke="#333" stroke-width="1.45"/>
<text x="423.7" y="616.5" text-anchor="middle" class="at">12 years</text>
<path d="M519.5 600.3V603.8" stroke="#333" stroke-width="1.45"/>
<text x="519.5" y="616.5" text-anchor="middle" class="at">15 years</text>
<path d="M615.4 600.3V603.8" stroke="#333" stroke-width="1.45"/>
<text x="615.4" y="616.5" text-anchor="middle" class="at">18 years</text>
<text x="-0.3" y="12.6" class="ttl">a</text>
<text x="39.1" y="12.6" class="ttl">Loss Sensitivity</text>
<text x="0.8" y="328.7" class="ttl">b</text>
<text x="361.3" y="31.8" text-anchor="middle" class="lab">Feedback Group</text>
<text x="198" y="58.7" text-anchor="middle" class="strip">inclusion</text>
<text x="524.5" y="58.7" text-anchor="middle" class="strip">exclusion</text>
<text x="198" y="333.6" text-anchor="middle" class="strip">individual</text>
<text x="524.5" y="333.6" text-anchor="middle" class="strip">rank</text>
<text x="361.3" y="301" text-anchor="middle" class="lab">Age</text>
<text x="361.3" y="632" text-anchor="middle" class="lab">Age</text>
<text transform="translate(11.0 167.3) rotate(-90)" text-anchor="middle" class="lab">Predicted Number of Cards</text>
<text transform="translate(11.0 470.2) rotate(-90)" text-anchor="middle" class="lab">Predicted Number of Cards</text>
<text x="375.5" y="253.4" class="ann">linear age (250vs.750): <tspan class="it">Est</tspan>=.05, <tspan class="it">SE</tspan>=.01, <tspan class="it">p</tspan>&lt;.001</text>
<text x="49.4" y="578.9" class="ann">linear age (250vs.750): <tspan class="it">Est</tspan>=.05, <tspan class="it">SE</tspan>=.02, <tspan class="it">p</tspan>=.003</text>
<text x="363.5" y="578.9" class="ann">quadratic age (250vs.750): <tspan class="it">Est</tspan>=-.01,  <tspan class="it">SE</tspan>=.01, <tspan class="it">p</tspan>=.07</text>
<text x="272.0" y="669.9" class="lab" style="font-size:13.33px;letter-spacing:0.13px">Loss Amount</text>
<rect x="356" y="655.9" width="19.3" height="18.8" fill="#fff"/>
<rect x="356" y="655.9" width="19.3" height="18.8" fill="#808080" fill-opacity="0.2"/>
<path d="M357.1 665.4H374.1" stroke="#808080" stroke-width="3.3"/>
<circle cx="365.4" cy="665.4" r="3.55" fill="#808080"/>
<rect x="407.1" y="655.9" width="19.3" height="18.8" fill="#fff"/>
<rect x="407.1" y="655.9" width="19.3" height="18.8" fill="#4a4a4a" fill-opacity="0.2"/>
<path d="M408.3 665.4H414M419 665.4H425.3" stroke="#4a4a4a" stroke-width="3.3"/>
<circle cx="416.6" cy="665.4" r="3.55" fill="#4a4a4a"/>
<text x="382.9" y="669.2" class="leg">250</text>
<text x="434.4" y="669.2" class="leg">750</text>
</svg>
</body></html>
